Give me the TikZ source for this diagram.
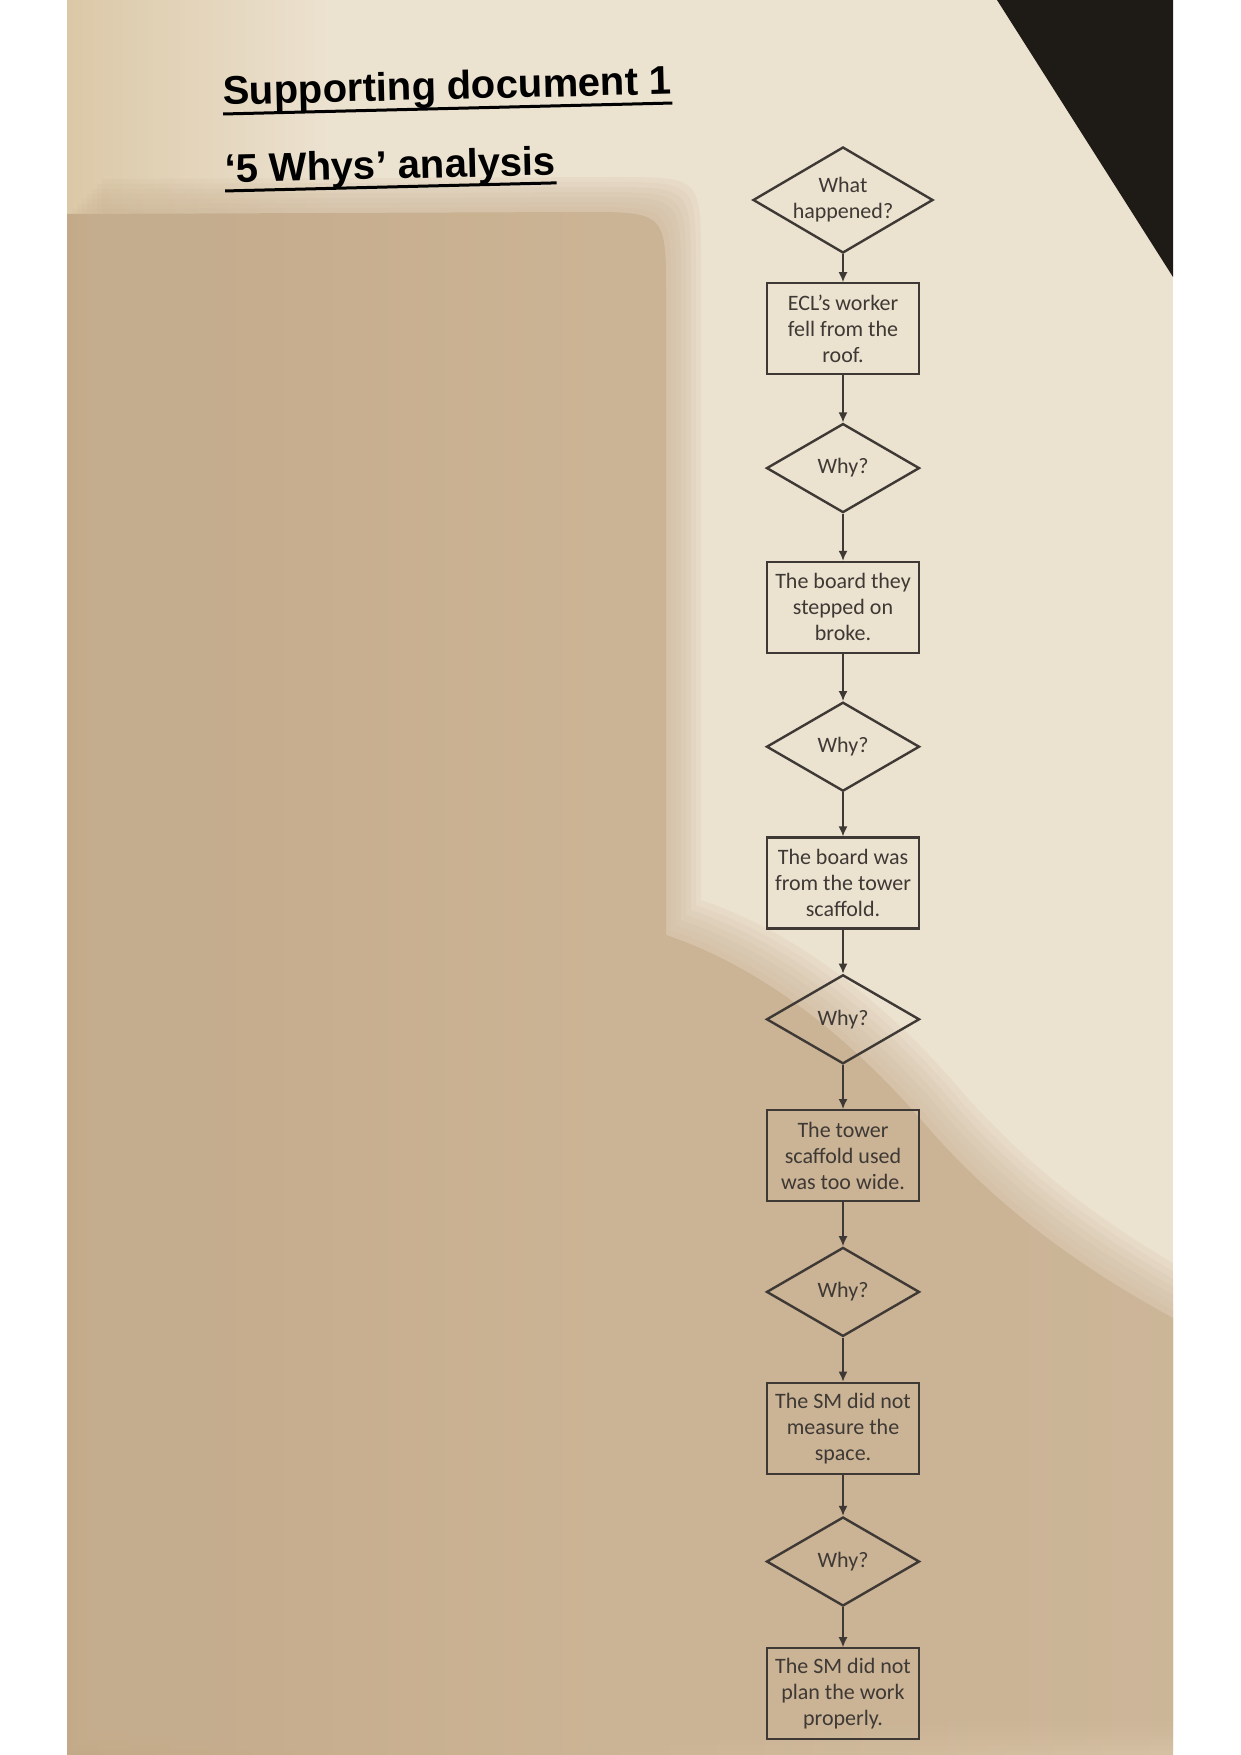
\documentclass[tikz,border=0pt]{standalone}
\usepackage{fontspec}
\usepackage{tikz}
\usetikzlibrary{arrows.meta,shapes.geometric,positioning}
\newfontfamily\boxfont{Carlito}
\newfontfamily\titlefont{Liberation Sans}
\definecolor{paperlit}{RGB}{236,226,208}
\definecolor{paperdim}{RGB}{219,200,167}
\definecolor{papershade}{RGB}{203,179,149}
\definecolor{shadeleft}{RGB}{194,169,136}
\definecolor{shaderight}{RGB}{213,192,163}
\definecolor{tabletop}{RGB}{30,26,22}
\definecolor{ink}{RGB}{62,57,52}
\tikzset{
    raw chart entry/.style={draw=ink, text=ink, line width=2.2pt, inner sep=0pt, align=center,
        font=\boxfont\fontsize{22}{26}\selectfont},
    cause entry/.style={raw chart entry, rectangle, minimum width=152pt, minimum height=91pt},
    why entry/.style={raw chart entry, diamond, aspect=1.7, line width=2.4pt, minimum width=153pt, minimum height=89pt},
    heading/.style={inner sep=0pt, anchor=base west, text=black,
        font=\titlefont\bfseries\fontsize{40}{48}\selectfont},
    next/.style={->, draw=ink, line width=1.6pt}
}
\def\shadowpath{(67,214) -- (580,212) .. controls (666,212) .. (666,296) -- (666,935)
	.. controls (755,965) and (845,1030) .. (930,1130) .. controls (1010,1220) and (1095,1275) .. (1173,1318)
	-- (1173,1755) -- (67,1755) -- cycle}

\begin{document}
\begin{tikzpicture}[x=1pt, y=-1pt, node distance=44pt, >={Latex[length=10pt,width=9pt]}]
	% paper, shadow and table corner
	\useasboundingbox (0,0) rectangle (1240,1755);
	\fill[white] (0,0) rectangle (1240,1755);
	\fill[paperlit] (67,0) rectangle (1173,1755);
	\shade[left color=paperdim, right color=paperlit] (67,0) rectangle (330,215);
	\begin{scope}
		\clip (67,0) rectangle (1173,1755);
		\shade[left color=shadeleft, right color=shaderight] \shadowpath;
		\foreach \s in {5,10,...,35}
			\fill[papershade, fill opacity=0.13, shift={(\s,-\s)}] \shadowpath;
	\end{scope}
	\fill[tabletop] (997,0) -- (1173,0) -- (1173,277) -- cycle;

	% headings
	\begin{scope}[rotate around={1.4:(223,105)}, transform shape]
		\node[heading] (doc) at (223,105) {Supporting document 1};
		\node[heading] (whys) at (223,183) {‘5 Whys’ analysis};
		\draw[line width=3pt] ([yshift=-9pt]doc.base west) -- ([yshift=-9pt]doc.base east);
		\draw[line width=3pt] ([yshift=-8pt]whys.base west) -- ([yshift=-8pt]whys.base east);
	\end{scope}

	% the chain of whys
	\node[why entry, minimum width=180pt, minimum height=106pt] (what) at (843,200) {What\\happened?};
	\node[cause entry, below=28pt of what] (fell) {ECL’s worker\\fell from the\\roof.};
	\node[why entry, below=47pt of fell] (why1) {Why?};
	\node[cause entry, below=47pt of why1] (broke) {The board they\\stepped on\\broke.};
	\node[why entry, below=47pt of broke] (why2) {Why?};
	\node[cause entry, below=of why2] (board) {The board was\\from the tower\\scaffold.};
	\node[why entry, below=of board] (why3) {Why?};
	\node[cause entry, below=of why3] (wide) {The tower\\scaffold used\\was too wide.};
	\node[why entry, below=of wide] (why4) {Why?};
	\node[cause entry, below=of why4] (measure) {The SM did not\\measure the\\space.};
	\node[why entry, below=41pt of measure] (why5) {Why?};
	\node[cause entry, below=40pt of why5] (plan) {The SM did not\\plan the work\\properly.};

	\foreach \a/\b in {what/fell, fell/why1, why1/broke, broke/why2, why2/board, board/why3,
		why3/wide, wide/why4, why4/measure, measure/why5, why5/plan}
		\draw[next] (\a) -- (\b);
\end{tikzpicture}
\end{document}
